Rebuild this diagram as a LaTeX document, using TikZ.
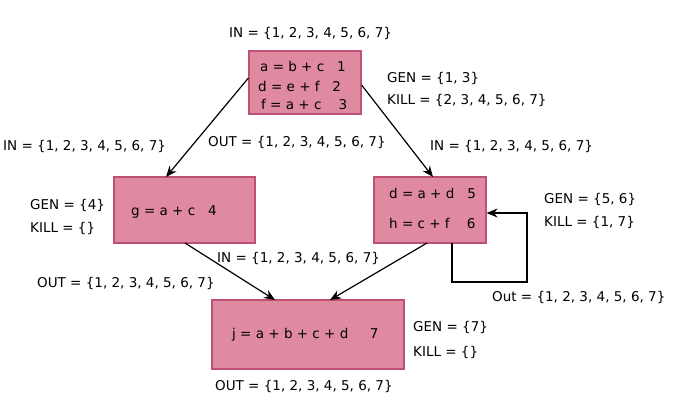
\documentclass[tikz,border=0pt]{standalone}
\usepackage{fontspec}
\setmainfont{DejaVu Sans}
\usetikzlibrary{arrows.meta}
\definecolor{bfill}{RGB}{224,138,162}
\definecolor{bdraw}{RGB}{190,80,115}
\begin{document}
\begin{tikzpicture}[x=1pt,y=-1pt,font=\fontsize{13.5}{15}\selectfont,
  blk/.style={draw=bdraw, fill=bfill, line width=1.2pt, rectangle, inner sep=0pt},
  lbl/.style={anchor=west, inner sep=0pt},
  arr/.style={-{Stealth[length=11pt,width=9pt]}, line width=1.2pt}]
\useasboundingbox (0,0) rectangle (686,418);
\node[blk, minimum width=112, minimum height=63] (b1) at (305,82.5) {};
\node[blk, minimum width=141, minimum height=66] (b2) at (184.5,210) {};
\node[blk, minimum width=112, minimum height=66] (b3) at (430,210) {};
\node[blk, minimum width=192, minimum height=69] (b4) at (308,334.5) {};
\node[lbl] (t1) at (260,66) {a = b + c \ \ 1};
\node[lbl] (t2) at (258,86) {d = e + f \ \ 2};
\node[lbl] (t3) at (261,104) {f = a + c \ \ \ 3};
\node[lbl] (t4) at (131,212) {g = a + c \ \ 4};
\node[lbl] (t5) at (389,193) {d = a + d \ \ 5};
\node[lbl] (t6) at (389,223) {h = c + f \ \ \ 6};
\node[lbl] (t7) at (232,335) {j = a + b + c + d \ \ \ \ 7};
\node[lbl] (l1) at (229,33) {IN = \{1, 2, 3, 4, 5, 6, 7\}};
\node[lbl] (l2) at (387,78) {GEN = \{1, 3\}};
\node[lbl] (l3) at (387,100) {KILL = \{2, 3, 4, 5, 6, 7\}};
\node[lbl] (l4) at (3,146) {IN = \{1, 2, 3, 4, 5, 6, 7\}};
\node[lbl] (l5) at (208,142) {OUT = \{1, 2, 3, 4, 5, 6, 7\}};
\node[lbl] (l6) at (430,146) {IN = \{1, 2, 3, 4, 5, 6, 7\}};
\node[lbl] (l7) at (30,205) {GEN = \{4\}};
\node[lbl] (l8) at (30,228) {KILL = \{\}};
\node[lbl] (l9) at (544,199) {GEN = \{5, 6\}};
\node[lbl] (l10) at (544,222) {KILL = \{1, 7\}};
\node[lbl] (l11) at (217,258) {IN = \{1, 2, 3, 4, 5, 6, 7\}};
\node[lbl] (l12) at (37,283) {OUT = \{1, 2, 3, 4, 5, 6, 7\}};
\node[lbl] (l13) at (492,297) {Out = \{1, 2, 3, 4, 5, 6, 7\}};
\node[lbl] (l14) at (413,327) {GEN = \{7\}};
\node[lbl] (l15) at (413,352) {KILL = \{\}};
\node[lbl] (l16) at (215,386) {OUT = \{1, 2, 3, 4, 5, 6, 7\}};
\draw[arr] (b1.west |- 0,78) -- (166,177);
\draw[arr] (b1.east |- 0,85) -- (433,177);
\draw[arr] (185,243) -- (275,300);
\draw[arr] (427,243) -- (330,300);
\coordinate (c1) at (452,282);
\coordinate (c2) at (527,282);
\coordinate (c3) at (527,213);
\draw[arr] (452,243) -- (c1) -- (c2) -- (c3) -- (b3.east |- c3);
\end{tikzpicture}
\end{document}
